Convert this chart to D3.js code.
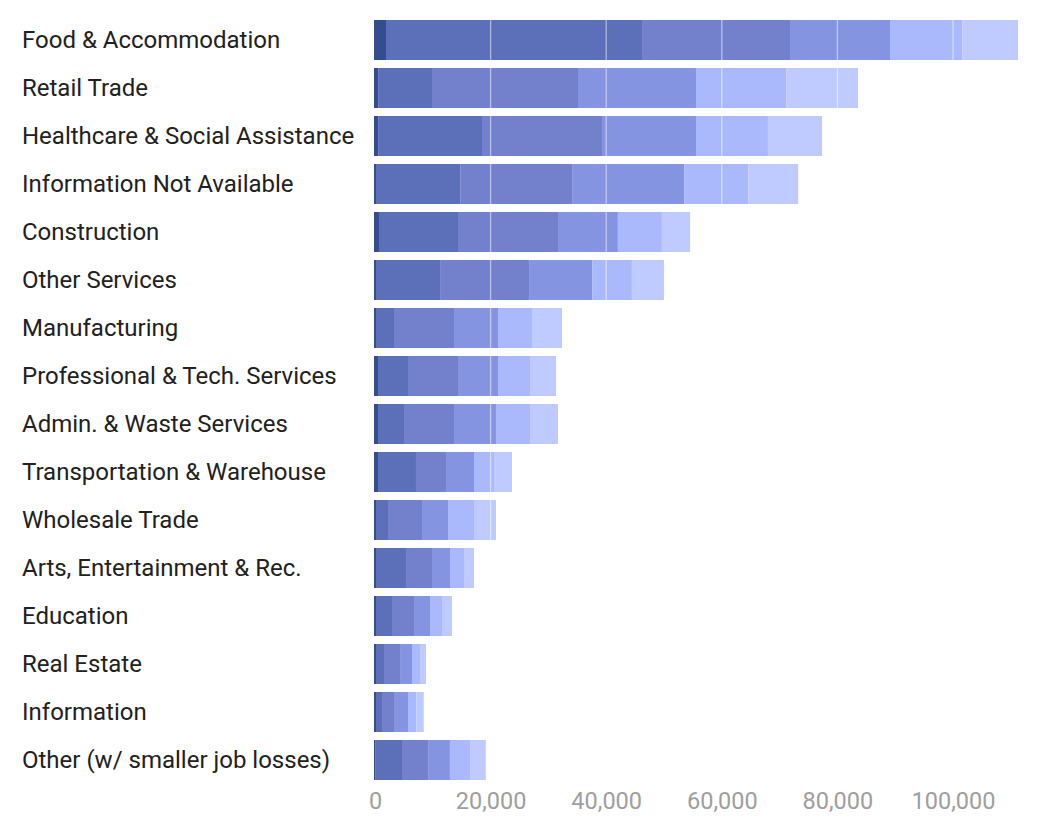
<!DOCTYPE html>
<html lang="en">
<head>
    <meta charset="UTF-8">
    <title>Job losses by industry</title>
    <style>
        body { margin: 0; background: #fff; }
        .label text { font-family: Roboto, sans-serif; font-size: 24px; fill: #212121; }
        .axis text { font-family: Roboto, sans-serif; font-size: 23.5px; fill: #9e9e9e; }
        .grid line { stroke: #fff; stroke-opacity: .5; stroke-width: 1.3px; }
    </style>
    <script src="https://d3js.org/d3.v7.min.js"></script>
</head>
<body>
    <script>
        const categories = [
            "Food & Accommodation", "Retail Trade", "Healthcare & Social Assistance",
            "Information Not Available", "Construction", "Other Services", "Manufacturing",
            "Professional & Tech. Services", "Admin. & Waste Services", "Transportation & Warehouse",
            "Wholesale Trade", "Arts, Entertainment & Rec.", "Education", "Real Estate",
            "Information", "Other (w/ smaller job losses)"
        ];

        // six stacked series
        const series1 = [1900, 540, 540, 170, 830, 170, 170, 520, 520, 520, 170, 170, 170, 170, 170, 120];
        const series2 = [44300, 9320, 17970, 14570, 13530, 11090, 3120, 5190, 4500, 6570, 2080, 5190, 2770, 1390, 1040, 4550];
        const series3 = [25600, 25260, 20760, 19360, 17300, 15520, 10380, 8650, 8650, 5190, 5880, 4500, 3810, 2770, 2080, 4520];
        const series4 = [17300, 20420, 16270, 19380, 10360, 10800, 7610, 6920, 7260, 4850, 4500, 3120, 2770, 2070, 2420, 3770];
        const series5 = [12500, 15600, 12440, 11090, 7620, 6870, 5880, 5540, 5890, 3460, 4500, 2420, 2070, 1390, 1420, 3480];
        const series6 = [9650, 12420, 9370, 8650, 4880, 5550, 5190, 4490, 4840, 3110, 3800, 1730, 1730, 1030, 1310, 2730];

        const seriesKeys = ["s1", "s2", "s3", "s4", "s5", "s6"];
        const seriesColors = ["#334d8f", "#5c6fb9", "#7381cc", "#8594e0", "#aab9fc", "#bfcbfe"];
        const ticks = [0, 20000, 40000, 60000, 80000, 100000];

        const width = 1040, height = 836;

        const rows = categories.map((c, i) => ({
            category: c,
            s1: series1[i], s2: series2[i], s3: series3[i],
            s4: series4[i], s5: series5[i], s6: series6[i]
        }));

        const stacked = d3.stack().keys(seriesKeys)(rows);

        const x = d3.scaleLinear().domain([0, 100000]).range([375, 953]);
        const y = d3.scaleBand().domain(categories).range([16, 784])
            .paddingInner(1 / 6).paddingOuter(1 / 12);
        const color = d3.scaleOrdinal().domain(seriesKeys).range(seriesColors);

        const svg = d3.select("body").append("svg")
            .attr("width", width).attr("height", height);

        svg.append("g")
            .selectAll("g").data(stacked).enter().append("g")
            .attr("fill", d => color(d.key))
            .selectAll("rect").data(d => d).enter().append("rect")
            .attr("x", d => x(d[0]) - (d[0] === 0 ? 1 : 0))
            .attr("y", d => y(d.data.category))
            .attr("width", d => x(d[1]) - x(d[0]) + (d[0] === 0 ? 1 : 0))
            .attr("height", y.bandwidth());

        // light gridlines are drawn on top of the bars
        svg.append("g").attr("class", "grid")
            .selectAll("line").data(ticks.filter(t => t > 0)).enter().append("line")
            .attr("x1", d => x(d)).attr("x2", d => x(d))
            .attr("y1", 16).attr("y2", 784);

        svg.append("g").attr("class", "label")
            .selectAll("text").data(categories).enter().append("text")
            .attr("x", 22)
            .attr("y", d => y(d) + y.bandwidth() / 2)
            .attr("dy", "0.33em")
            .text(d => d);

        const axis = svg.append("g").attr("class", "axis")
            .attr("transform", "translate(0,809)")
            .call(d3.axisBottom(x).tickValues(ticks).tickSize(0).tickPadding(0)
                .tickFormat(d3.format(",")));
        axis.select(".domain").remove();
        axis.selectAll("text").attr("dy", 0);
    </script>
</body>
</html>
